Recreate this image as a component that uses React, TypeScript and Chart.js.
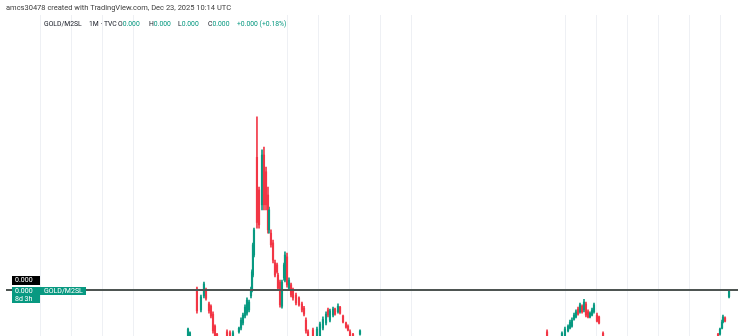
import React, { useEffect, useRef } from "react";
import { Chart, registerables } from "chart.js";

Chart.register(...registerables);

// ---- data (decimal year of each monthly candle, GOLD/M2SL ratio) ----
const candleYears = [
  1973.29, 1973.48, 1974.16, 1974.55, 1974.84, 1975.04, 1975.33, 1975.52, 1975.72, 1975.91,
  1976.11, 1977.08, 1977.37, 1977.66, 1978.24, 1978.44, 1978.63, 1978.83, 1979.02, 1979.22,
  1979.41, 1979.51, 1979.6, 1979.7, 1979.99, 1980.19, 1980.48, 1980.67, 1980.87, 1981.06,
  1981.16, 1981.35, 1981.55, 1981.74, 1981.94, 1982.03, 1982.23, 1982.42, 1982.62, 1982.71,
  1982.91, 1983.1, 1983.3, 1983.49, 1983.78, 1984.07, 1984.36, 1984.56, 1984.75, 1984.95,
  1985.43, 1985.82, 1986.11, 1986.4, 1986.7, 1986.89, 1987.08, 1987.38, 1987.57, 1987.86,
  1988.06, 1988.35, 1988.64, 1988.83, 1989.03, 1989.32, 1990.0,
  2008.17, 2009.62, 2009.91, 2010.21, 2010.4, 2010.59, 2010.79, 2010.98, 2011.18, 2011.37,
  2011.57, 2011.76, 2011.95, 2012.15, 2012.34, 2012.54, 2012.73, 2013.02, 2013.22, 2013.61,
  2024.78, 2024.97, 2025.17, 2025.26, 2025.46, 2025.85,
];
const candleOpen = [
  0.09, 0.09, 0.197, 0.152, 0.182, 0.195, 0.165, 0.16, 0.143, 0.117,
  0.1, 0.105, 0.103, 0.09, 0.105, 0.113, 0.124, 0.139, 0.145, 0.152,
  0.182, 0.195, 0.227, 0.27, 0.48, 0.41, 0.378, 0.485, 0.449, 0.399,
  0.324, 0.317, 0.296, 0.253, 0.249, 0.227, 0.212, 0.16, 0.221, 0.216,
  0.266, 0.199, 0.206, 0.195, 0.184, 0.178, 0.165, 0.156, 0.13, 0.105,
  0.109, 0.09, 0.09, 0.113, 0.124, 0.152, 0.13, 0.141, 0.154, 0.148,
  0.158, 0.139, 0.124, 0.117, 0.105, 0.1, 0.1,
  0.105, 0.09, 0.09, 0.107, 0.113, 0.117, 0.132, 0.137, 0.154, 0.148,
  0.16, 0.152, 0.165, 0.148, 0.137, 0.141, 0.148, 0.141, 0.137, 0.102,
  0.1, 0.1, 0.113, 0.126, 0.135, 0.18,
];
const candleHigh = [
  0.113, 0.105, 0.201, 0.184, 0.212, 0.199, 0.169, 0.163, 0.148, 0.12,
  0.102, 0.109, 0.107, 0.107, 0.115, 0.135, 0.145, 0.163, 0.178, 0.173,
  0.201, 0.238, 0.296, 0.328, 0.567, 0.416, 0.496, 0.502, 0.459, 0.416,
  0.373, 0.324, 0.302, 0.259, 0.253, 0.231, 0.216, 0.216, 0.253, 0.277,
  0.274, 0.221, 0.21, 0.199, 0.188, 0.18, 0.169, 0.16, 0.135, 0.109,
  0.113, 0.115, 0.126, 0.137, 0.148, 0.156, 0.154, 0.158, 0.156, 0.165,
  0.16, 0.141, 0.126, 0.12, 0.109, 0.102, 0.109,
  0.109, 0.105, 0.115, 0.12, 0.13, 0.135, 0.145, 0.152, 0.158, 0.167,
  0.163, 0.175, 0.169, 0.152, 0.148, 0.156, 0.167, 0.145, 0.139, 0.105,
  0.102, 0.113, 0.13, 0.141, 0.137, 0.195,
];
const candleLow = [
  0.085, 0.085, 0.145, 0.148, 0.178, 0.173, 0.145, 0.135, 0.102, 0.085,
  0.085, 0.085, 0.085, 0.085, 0.102, 0.109, 0.12, 0.135, 0.141, 0.148,
  0.178, 0.191, 0.223, 0.266, 0.328, 0.328, 0.367, 0.367, 0.367, 0.317,
  0.317, 0.287, 0.253, 0.223, 0.231, 0.195, 0.158, 0.156, 0.216, 0.212,
  0.201, 0.195, 0.18, 0.173, 0.163, 0.16, 0.148, 0.139, 0.102, 0.085,
  0.085, 0.085, 0.085, 0.109, 0.12, 0.137, 0.126, 0.137, 0.141, 0.145,
  0.143, 0.124, 0.113, 0.107, 0.085, 0.085, 0.098,
  0.085, 0.085, 0.085, 0.105, 0.111, 0.115, 0.13, 0.135, 0.141, 0.145,
  0.145, 0.148, 0.137, 0.135, 0.135, 0.139, 0.145, 0.126, 0.122, 0.085,
  0.085, 0.098, 0.111, 0.124, 0.126, 0.178,
];
const candleClose = [
  0.111, 0.103, 0.15, 0.18, 0.208, 0.177, 0.15, 0.139, 0.107, 0.092,
  0.09, 0.09, 0.09, 0.103, 0.113, 0.13, 0.141, 0.158, 0.173, 0.169,
  0.197, 0.234, 0.292, 0.324, 0.34, 0.335, 0.485, 0.378, 0.378, 0.324,
  0.367, 0.292, 0.259, 0.227, 0.234, 0.199, 0.163, 0.212, 0.249, 0.27,
  0.206, 0.216, 0.184, 0.178, 0.167, 0.163, 0.152, 0.143, 0.107, 0.09,
  0.09, 0.111, 0.122, 0.132, 0.143, 0.141, 0.15, 0.154, 0.143, 0.16,
  0.145, 0.126, 0.115, 0.109, 0.09, 0.09, 0.107,
  0.09, 0.102, 0.111, 0.117, 0.126, 0.13, 0.141, 0.148, 0.143, 0.163,
  0.148, 0.169, 0.141, 0.137, 0.145, 0.152, 0.163, 0.128, 0.124, 0.09,
  0.09, 0.111, 0.126, 0.137, 0.128, 0.195,
];

// vertical grid (time axis) years that show a grid line
const gridYears = [1959, 1962, 1965, 1968, 1983, 1986, 1989, 1992, 1995, 2010, 2013, 2016, 2019, 2022, 2025];

// texts
const watermarkText = "amcs30478 created with TradingView.com, Dec 23, 2025 10:14 UTC";
const symbolText = "GOLD/M2SL";
const intervalText = "1M · TVC";
const ohlcLetters = ["O", "H", "L", "C"];
const ohlcValues = ["0.000", "0.000", "0.000", "0.000"];
const changeText = "+0.000 (+0.18%)";
const priceLabel = "0.000";
const seriesName = "GOLD/M2SL";
const countdownText = "8d 3h";

const X_MIN = 1955.61;
const X_MAX = 2026.72;
const Y_MIN = 0.096;
const Y_MAX = 0.786;

const UP = "#089981";
const DOWN = "#f23645";
const FONT = "Roboto, 'Liberation Sans', sans-serif";

export default function App() {
  const ref = useRef<HTMLCanvasElement | null>(null);

  useEffect(() => {
    const canvas = ref.current;
    if (!canvas) return;
    const isUp = (i: number) => candleClose[i] >= candleOpen[i];
    const colors = candleYears.map((_, i) => (isUp(i) ? UP : DOWN));
    const lastClose = candleClose[candleClose.length - 1];

    const overlay = {
      id: "tvOverlay",
      afterDatasetsDraw(chart: any) {
        const ctx = chart.ctx as CanvasRenderingContext2D;
        const { left, right } = chart.chartArea;
        const ly = Math.round(chart.scales.y.getPixelForValue(lastClose));
        ctx.save();
        // price line
        ctx.strokeStyle = "#4e5552";
        ctx.lineWidth = 2;
        ctx.beginPath();
        ctx.moveTo(left, ly);
        ctx.lineTo(right, ly);
        ctx.stroke();

        // labels
        ctx.font = `7px ${FONT}`;
        ctx.textBaseline = "middle";
        ctx.fillStyle = "#000000";
        ctx.fillRect(12, ly - 14, 28, 9);
        ctx.fillStyle = "#ffffff";
        ctx.fillText(priceLabel, 15, ly - 9.5);

        ctx.fillStyle = UP;
        ctx.fillRect(12, ly - 3, 28, 16);
        ctx.fillRect(40, ly - 3, 46, 8);
        ctx.fillStyle = "#ffffff";
        ctx.fillText(priceLabel, 15, ly + 1.5);
        ctx.fillText(seriesName, 44, ly + 1.5);
        ctx.fillText(countdownText, 15, ly + 9);
        ctx.restore();
      },
      afterDraw(chart: any) {
        const ctx = chart.ctx as CanvasRenderingContext2D;
        ctx.save();
        ctx.textBaseline = "middle";
        ctx.font = `7.5px ${FONT}`;
        ctx.fillStyle = "#3c3c3c";
        ctx.fillText(watermarkText, 6, 8);

        ctx.font = `6.8px ${FONT}`;
        const y = 24;
        const segX = [118, 149, 178, 208];
        ctx.fillStyle = "#131722";
        ctx.fillText(symbolText, 44, y);
        ctx.fillText(intervalText, 89, y);
        for (let i = 0; i < ohlcLetters.length; i++) {
          ctx.fillStyle = "#131722";
          ctx.fillText(ohlcLetters[i], segX[i], y);
          const w = ctx.measureText(ohlcLetters[i]).width;
          ctx.fillStyle = UP;
          ctx.fillText(ohlcValues[i], segX[i] + w, y);
        }
        ctx.fillStyle = UP;
        ctx.fillText(changeText, 237, y);
        ctx.restore();
      },
    };

    const chart = new Chart(canvas, {
      type: "bar",
      data: {
        datasets: [
          {
            label: "wick",
            data: candleYears.map((yr, i) => ({ x: yr, y: [candleLow[i], candleHigh[i]] })) as any,
            backgroundColor: colors,
            borderWidth: 0,
            barThickness: 1,
            grouped: false,
            order: 2,
          } as any,
          {
            label: "body",
            data: candleYears.map((yr, i) => ({ x: yr, y: [candleOpen[i], candleClose[i]] })) as any,
            backgroundColor: colors,
            borderWidth: 0,
            barThickness: 1.5,
            grouped: false,
            order: 1,
          } as any,
        ],
      },
      options: {
        animation: false,
        responsive: false,
        maintainAspectRatio: false,
        events: [],
        layout: { padding: { left: 6, right: 7, top: 15, bottom: 0 } },
        plugins: { legend: { display: false }, tooltip: { enabled: false }, title: { display: false } },
        scales: {
          x: {
            type: "linear",
            min: X_MIN,
            max: X_MAX,
            offset: false,
            border: { display: false },
            grid: { display: true, color: "#eef0f4", lineWidth: 1, drawTicks: false, offset: false },
            ticks: { display: false },
            afterBuildTicks: (s: any) => {
              s.ticks = gridYears.map((v) => ({ value: v }));
            },
          },
          y: {
            type: "linear",
            display: false,
            min: Y_MIN,
            max: Y_MAX,
          },
        },
      } as any,
      plugins: [overlay],
    });
    return () => chart.destroy();
  }, []);

  return (
    <div style={{ position: "absolute", left: 0, top: 0, width: 745, height: 336, background: "#ffffff", overflow: "hidden" }}>
      <canvas ref={ref} width={745} height={336} style={{ width: 745, height: 336, display: "block" }} />
    </div>
  );
}
